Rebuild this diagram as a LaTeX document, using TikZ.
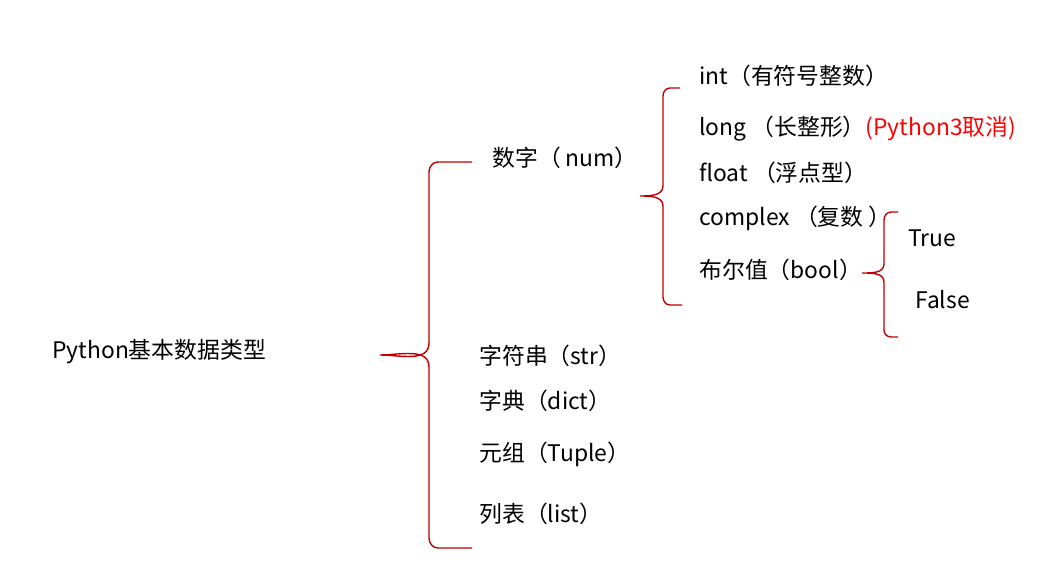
\documentclass[tikz,border=0pt]{standalone}
\usepackage{fontspec}
\setmainfont{Noto Sans CJK SC}
\begin{document}
\begin{tikzpicture}[x=0.02cm,y=-0.02cm,
  lbl/.style={anchor=west,inner sep=0pt,font=\fontsize{13}{15}\selectfont},
  brace/.style={draw=red!75!black,line width=0.8pt}]
\useasboundingbox (0,0) rectangle (1062,585);
\node[lbl] (root) at (52,352) {Python基本数据类型};
\node[lbl] (num) at (492,158) {数字（ num）};
\node[lbl] (int) at (699,76) {int（有符号整数）};
\node[lbl] (long) at (699,129) {long （长整形）\textcolor{red}{(Python3取消)}};
\node[lbl] (float) at (699,173) {float （浮点型）};
\node[lbl] (cplx) at (699,218) {complex （复数 ）};
\node[lbl] (bool) at (699,270) {布尔值（bool）};
\node[lbl] (t) at (908,238) {True};
\node[lbl] (f) at (915,300) {False};
\node[lbl] (str) at (479,356) {字符串（str）};
\node[lbl] (dict) at (479,401) {字典（dict）};
\node[lbl] (tup) at (479,454) {元组（Tuple）};
\node[lbl] (list) at (479,514) {列表（list）};
\coordinate (b1) at (380,355);
\coordinate (b2) at (640,196);
\coordinate (b3) at (862,273);
\draw[brace] (472,162) -- (438,162) to[out=180,in=90] (429,172) -- (429,343) to[out=-90,in=0] (b1)
  (b1) to[out=0,in=90] (429,367) -- (429,538) to[out=-90,in=180] (438,548) -- (472,548);
\draw[brace] (680,88) -- (670,88) to[out=180,in=90] (663,96) -- (663,186) to[out=-90,in=0] (b2)
  (b2) to[out=0,in=90] (663,206) -- (663,297) to[out=-90,in=180] (670,305) -- (682,305);
\draw[brace] (898,212) -- (891,212) to[out=180,in=90] (884,220) -- (884,264) to[out=-90,in=0] (b3)
  (b3) to[out=0,in=90] (884,282) -- (884,330) to[out=-90,in=180] (891,337) -- (898,337);
\end{tikzpicture}
\end{document}
